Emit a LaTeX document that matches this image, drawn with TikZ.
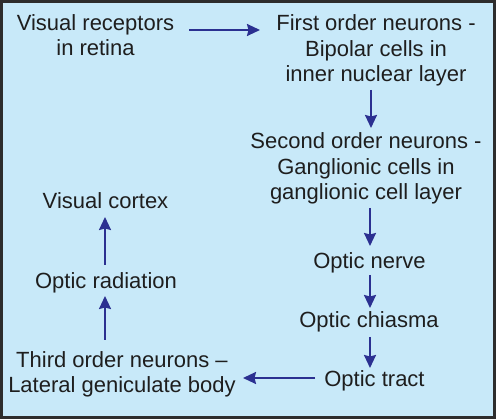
\documentclass[tikz,border=0pt]{standalone}
\usepackage{fontspec}
\setmainfont{Liberation Sans}
\usetikzlibrary{arrows.meta,calc}
\definecolor{bgblue}{RGB}{200,233,249}
\definecolor{frame}{RGB}{45,45,45}
\definecolor{navy}{RGB}{43,48,145}
\definecolor{ink}{RGB}{30,30,30}
\tikzset{
  lbl/.style={inner sep=0pt, outer sep=0pt, align=center, anchor=base, text=ink,
    font=\fontsize{22}{25.5}\selectfont},
  arr/.style={draw=navy, line width=2pt, -{Stealth[length=13pt,width=12pt,inset=1.5pt]}},
}
\begin{document}
\begin{tikzpicture}[x=1pt,y=-1pt]
\useasboundingbox (0,0) rectangle (496,419);
\fill[bgblue] (0,0) rectangle (496,419);
\draw[frame, line width=3pt] (1.5,1.5) rectangle (494.5,417.5);
\node[lbl] (vr) at (95.5,56) {Visual receptors\\in retina};
\node[lbl] (fo) at (376,82) {First order neurons -\\Bipolar cells in\\inner nuclear layer};
\node[lbl] (so) at (366,200) {Second order neurons -\\Ganglionic cells in\\ganglionic cell layer};
\node[lbl] (on) at (369.5,269) {Optic nerve};
\node[lbl] (oc) at (369,328) {Optic chiasma};
\node[lbl] (ot) at (374.5,387) {Optic tract};
\node[lbl] (to) at (122,393) {Third order neurons –\\Lateral geniculate body};
\node[lbl] (orad) at (106,289) {Optic radiation};
\node[lbl] (vc) at (105.5,209) {Visual cortex};
\draw[arr] ([shift={(93.5,-26)}]vr.base) -- ([shift={(-116,-52)}]fo.base);
\draw[arr] ([shift={(-5,8)}]fo.base) -- ([shift={(5,-72)}]so.base);
\draw[arr] ([shift={(4,8)}]so.base) -- ([shift={(0.5,-23)}]on.base);
\draw[arr] ([shift={(0.5,6)}]on.base) -- ([shift={(1,-20)}]oc.base);
\draw[arr] ([shift={(1,9)}]oc.base) -- ([shift={(-4.5,-19)}]ot.base);
\draw[arr] ([shift={(-59.5,-9)}]ot.base) -- ([shift={(121,-15)}]to.base);
\draw[arr] ([shift={(-17,-53)}]to.base) -- ([shift={(-1,7)}]orad.base);
\draw[arr] ([shift={(-1,-24)}]orad.base) -- ([shift={(-0.5,8)}]vc.base);
\end{tikzpicture}
\end{document}
